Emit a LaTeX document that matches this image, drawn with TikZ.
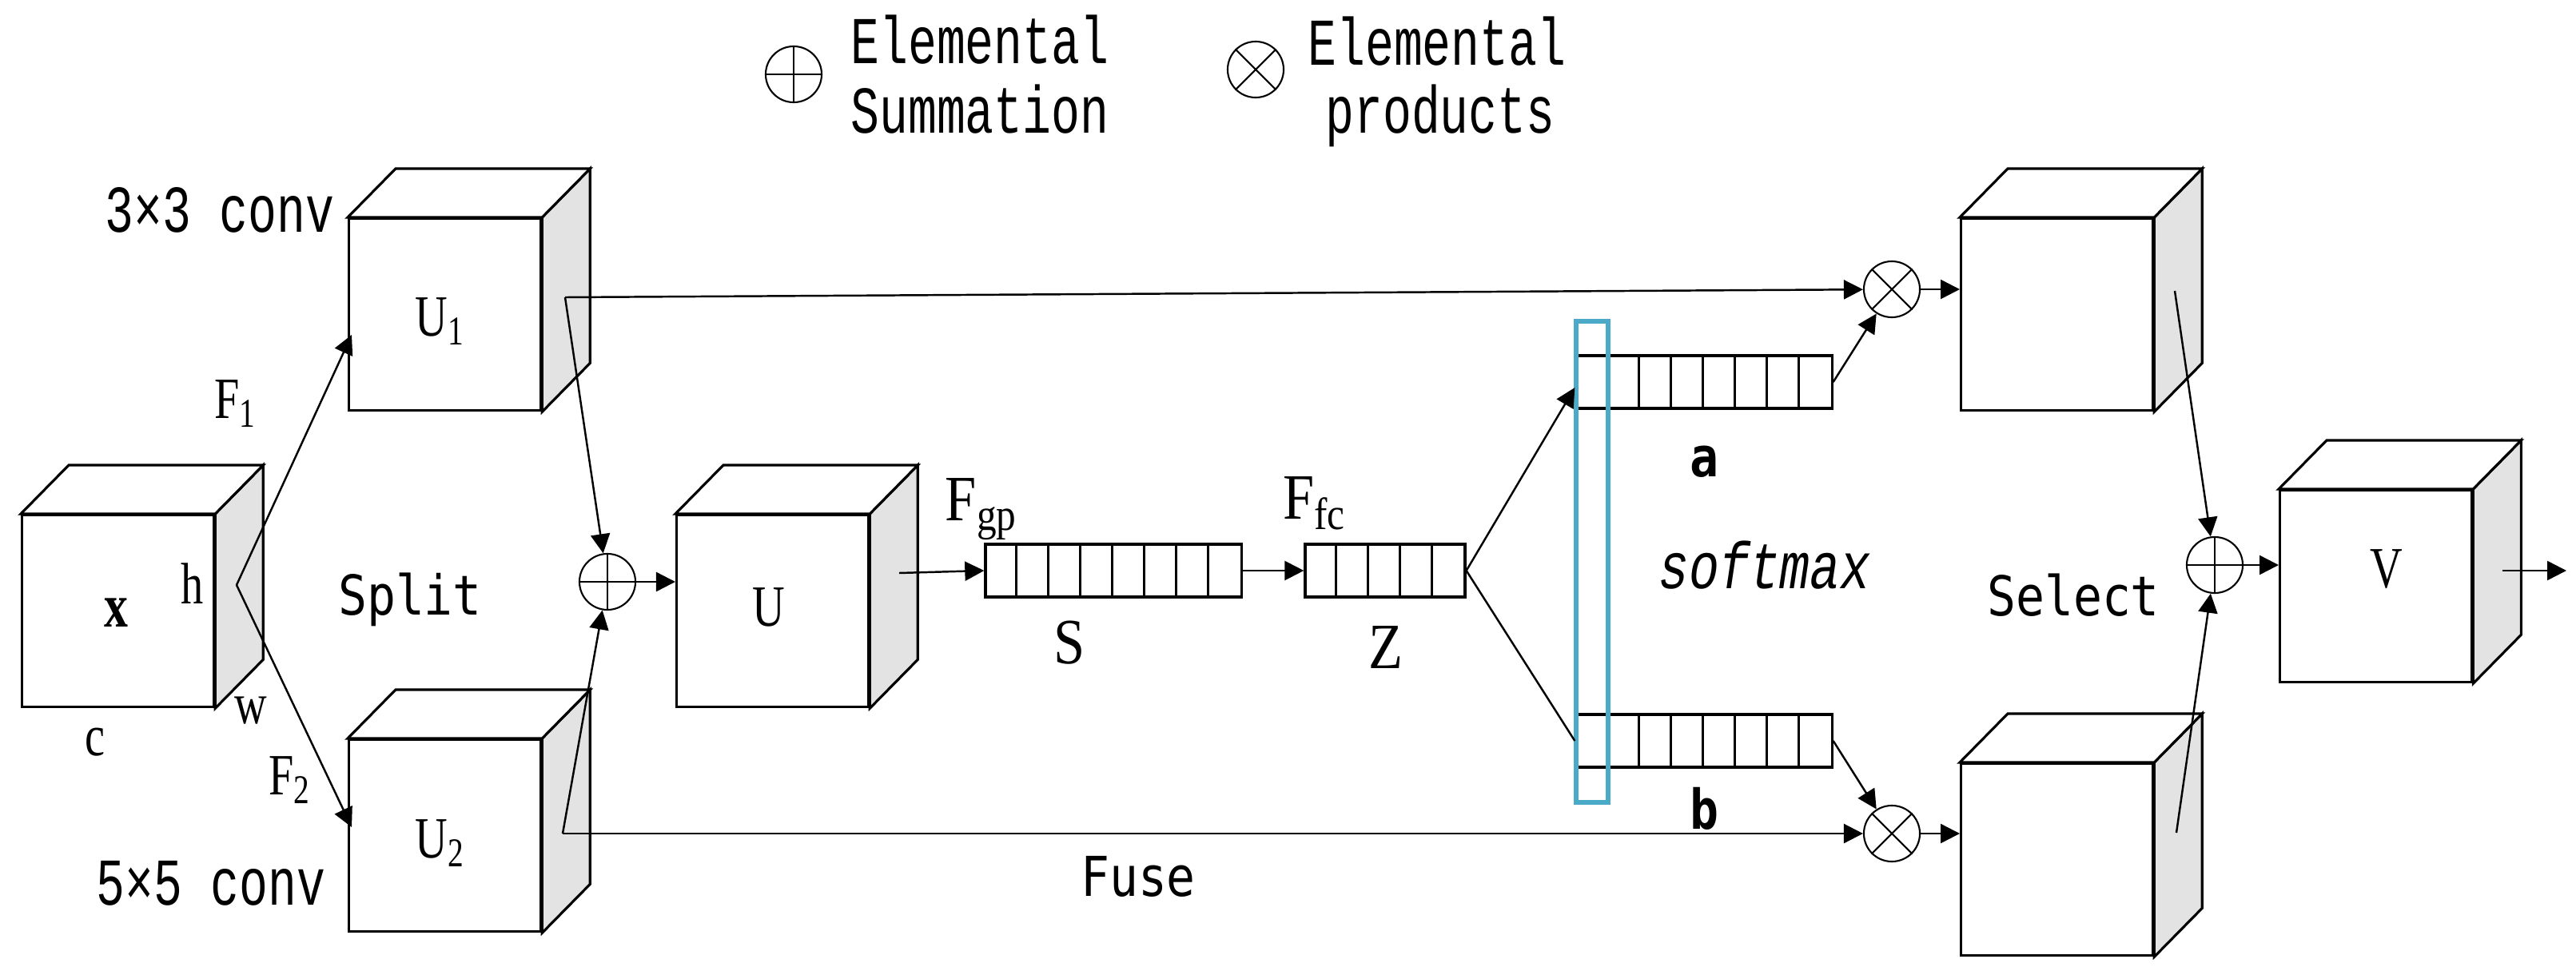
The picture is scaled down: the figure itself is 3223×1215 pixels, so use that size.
\documentclass[tikz,border=0pt]{standalone}
\usepackage{fontspec}
\usepackage{graphicx}
\setmainfont{Liberation Serif}
\newfontfamily\mono{Liberation Mono}
\newfontfamily\smono{DejaVu Sans Mono}
\usetikzlibrary{arrows.meta,calc}
\newcommand\T[2][1.3]{\scalebox{1}[#1]{#2}}
\begin{document}
\begin{tikzpicture}[x=0.01cm,y=-0.01cm,
  cubefront/.style={draw,line width=0.9pt,fill=white,minimum width=2.4cm,minimum height=2.4cm,inner sep=0pt},
  side/.style={draw,line width=0.9pt,fill=gray!22},
  top/.style={draw,line width=0.9pt,fill=white},
  vec/.style={draw,line width=0.9pt,fill=white,minimum height=0.66cm,inner sep=0pt},
  op/.style={circle,draw,line width=0.6pt,minimum size=0.7cm,inner sep=0pt},
  ln/.style={line width=0.7pt},
  arr/.style={line width=0.7pt,-{Triangle[length=0.24cm,width=0.24cm]}},
  lmono/.style={font=\mono\fontsize{17}{20}\selectfont},
  lsans/.style={font=\smono\fontsize{17}{20}\selectfont},
  lser/.style={font=\fontsize{16}{19}\selectfont},
  lbig/.style={font=\fontsize{20}{24}\selectfont},
]
\useasboundingbox (0,0) rectangle (3223,1215);
\newcommand\mycube[3]{%
  \node[cubefront,anchor=north west] (#1) at (#2,#3) {};
  \draw[side] (#1.north east) -- ++(60,-61) -- ($(#1.south east)+(60,-61)$) -- (#1.south east) -- cycle;
  \draw[top] (#1.north west) -- ++(60,-61) -- ($(#1.north east)+(60,-61)$) -- (#1.north east) -- cycle;
}
\mycube{X}{26}{643}
\mycube{U1}{435}{272}
\mycube{U2}{435}{924}
\mycube{U}{845}{643}
\mycube{R1}{2452}{272}
\mycube{R2}{2452}{954}
\mycube{V}{2851}{612}

% vectors
\node[vec,minimum width=3.2cm] (S) at (1393,714) {};
\foreach \i in {1,...,7} \draw[ln] ($(S.north west)+(\i*40,0)$) -- ($(S.south west)+(\i*40,0)$);
\node[vec,minimum width=2.0cm] (Z) at (1733,714) {};
\foreach \i in {1,...,4} \draw[ln] ($(Z.north west)+(\i*40,0)$) -- ($(Z.south west)+(\i*40,0)$);
\node[vec,minimum width=3.2cm] (A) at (2132,478) {};
\foreach \i in {1,...,7} \draw[ln] ($(A.north west)+(\i*40,0)$) -- ($(A.south west)+(\i*40,0)$);
\node[vec,minimum width=3.2cm] (B) at (2132,927) {};
\foreach \i in {1,...,7} \draw[ln] ($(B.north west)+(\i*40,0)$) -- ($(B.south west)+(\i*40,0)$);
\draw[line width=1.6pt,color={rgb,255:red,74;green,170;blue,200}] (1972,402) rectangle (2012,1004);

% operators
\node[op] (P1) at (760,728) {};
\node[op] (P2) at (2771,707) {};
\node[op] (M1) at (2367,362) {};
\node[op] (M2) at (2367,1043) {};
\foreach \p in {P1,P2} \draw[line width=0.6pt] (\p.north)--(\p.south) (\p.west)--(\p.east);
\foreach \p in {M1,M2} \draw[line width=0.6pt] (\p.north west)--(\p.south east) (\p.north east)--(\p.south west);

% coordinates
\coordinate (hp) at (296,732);
\coordinate (f1) at (440,419);
\coordinate (f2) at (440,1035);
\coordinate (u1o) at (707,372);
\coordinate (u2o) at (704,1043);
\coordinate (uo) at (1125,717);
\coordinate (r1o) at (2721,364);
\coordinate (r2o) at (2723,1042);
\coordinate (vo) at (3131,714);
\coordinate (vend) at (3211,714);

\draw[arr] (hp) -- (f1);
\draw[arr] (hp) -- (f2);
\draw[arr] (u1o) -- (P1);
\draw[arr] (u2o) -- (P1);
\draw[arr] (u1o) -- (M1);
\draw[arr] (u2o) -- (M2);
\draw[arr] (P1) -- (P1 -| U.west);
\draw[arr] (uo) -- (S.west);
\draw[arr] (S.east) -- (Z.west);
\draw[arr] (Z.east) -- ($(A.west)+(0,7)$);
\draw[ln] (Z.east) -- (B.west);
\draw[arr] (A.east) -- (M1);
\draw[arr] (B.east) -- (M2);
\draw[arr] (M1) -- (M1 -| R1.west);
\draw[arr] (M2) -- (M2 -| R2.west);
\draw[arr] (r1o) -- (P2);
\draw[arr] (r2o) -- (P2);
\draw[arr] (P2) -- (P2 -| V.west);
\draw[arr] (vo) -- (vend);

% legend
\node[op] (LP) at (993,93) {};
\draw[line width=0.6pt] (LP.north)--(LP.south) (LP.west)--(LP.east);
\node[op] (LM) at (1571,87) {};
\draw[line width=0.6pt] (LM.north west)--(LM.south east) (LM.north east)--(LM.south west);
\node[lmono,anchor=west] (t1) at (1052,50) {\T[1.4]{Elemental}};
\node[lmono,anchor=west] (t2) at (1052,137) {\T[1.4]{Summation}};
\node[lmono,anchor=west] (t3) at (1624,52) {\T[1.4]{Elemental}};
\node[lmono,anchor=west] (t4) at (1646,145) {\T[1.4]{products}};

% labels
\node[lmono] (c3) at (275,263) {\T[1.4]{3×3 conv}};
\node[lmono] (c5) at (264,1105) {\T[1.4]{5×5 conv}};
\node[lser] (lF1) at (295,505) {\T{F\textsubscript{1}}};
\node[lser] (lF2) at (363,976) {\T{F\textsubscript{2}}};
\node[lser] (lh) at (241,730) {\T{h}};
\node[lser] (lw) at (314,889) {\T{w}};
\node[lser] (lc) at (119,929) {\T{c}};
\node[lser,font=\fontsize{17}{20}\selectfont\bfseries] (lx) at (145,767) {\T{x}};
\node[lsans] (lsplit) at (513,750) {\T[1.15]{Split}};
\node[lser] (lU1) at (551,402) {\T{U\textsubscript{1}}};
\node[lser] (lU2) at (551,1055) {\T{U\textsubscript{2}}};
\node[lser] (lU) at (962,760) {\T{U}};
\node[lser] (lV) at (2986,712) {\T{V}};
\node[lbig] (lFgp) at (1228,637) {\T[1.15]{F\textsubscript{gp}}};
\node[lbig] (lFfc) at (1645,630) {\T[1.15]{F\textsubscript{fc}}};
\node[lbig] (lS) at (1338,804) {\T[1.15]{S}};
\node[lbig] (lZ) at (1734,810) {\T[1.15]{Z}};
\node[lsans] (lfuse) at (1424,1097) {\T[1.15]{Fuse}};
\node[lsans,font=\smono\fontsize{17}{20}\selectfont\bfseries] (la) at (2132,578) {\T[1.15]{a}};
\node[lsans,font=\smono\fontsize{17}{20}\selectfont\bfseries] (lb) at (2132,1012) {\T[1.15]{b}};
\node[lmono,font=\mono\fontsize{18}{20}\selectfont\itshape] (lsm) at (2208,707) {\T[1.3]{softmax}};
\node[lsans] (lsel) at (2594,745) {\T[1.15]{Select}};
\end{tikzpicture}
\end{document}
